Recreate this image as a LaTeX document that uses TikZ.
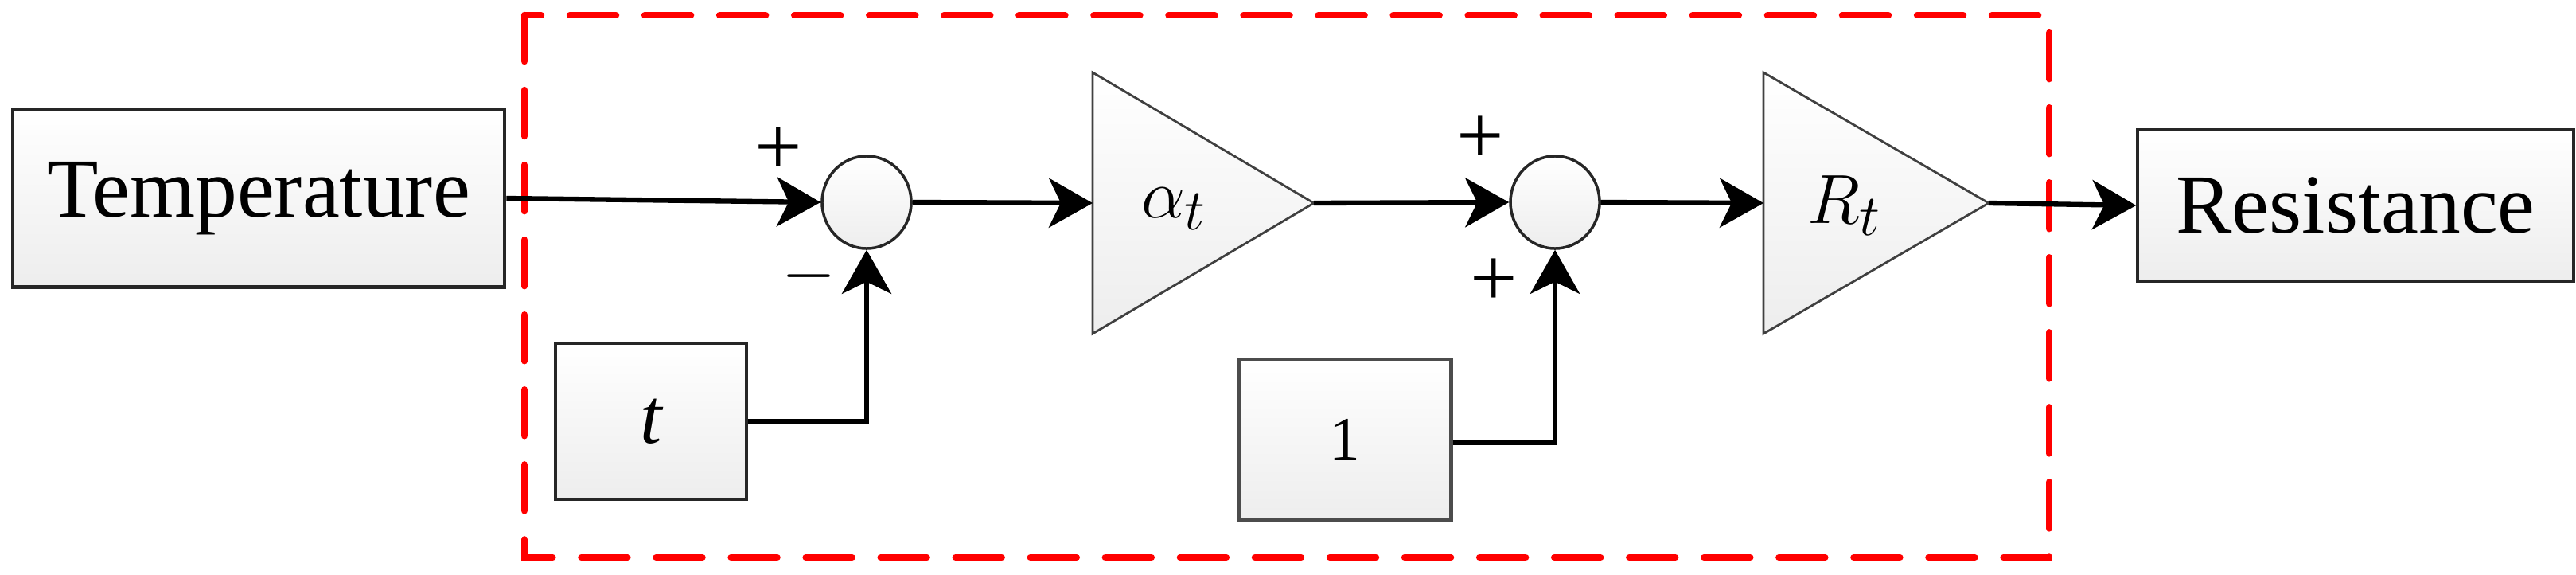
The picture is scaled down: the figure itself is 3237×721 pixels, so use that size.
\documentclass[tikz,border=0pt]{standalone}
\usepackage{fontspec}
\setmainfont{Liberation Serif}
\usetikzlibrary{arrows.meta,shapes.geometric}
\begin{document}
\begin{tikzpicture}[x=0.01cm,y=-0.01cm,
  blk/.style={draw=black!85,line width=1.2pt,top color=white,bottom color=black!7,inner sep=0pt},
  sumn/.style={draw=black!85,ellipse,line width=1pt,minimum width=1.12cm,minimum height=1.16cm,top color=white,bottom color=black!7},
  gain/.style={draw=black!75,line width=0.8pt,top color=white,bottom color=black!7},
  sig/.style={line width=1.8pt,-{Stealth[length=0.55cm,width=0.62cm,inset=0.15cm]}},
  wire/.style={line width=1.8pt},
  sgn/.style={font=\fontsize{30}{30}\selectfont}]
\useasboundingbox (0,0) rectangle (3237,721);
% dashed region
\draw[red,line width=2.4pt,dash pattern=on 0.58cm off 0.36cm,line cap=round] (659,19) rectangle (2575,700);
% blocks
\node[blk,minimum width=6.18cm,minimum height=2.23cm,font=\fontsize{30}{30}\selectfont] (temp) at (325,249) {Temperature};
\node[blk,minimum width=5.47cm,minimum height=1.90cm,font=\fontsize{30}{30}\selectfont] (res) at (2960,258) {Resistance};
\node[blk,minimum width=2.40cm,minimum height=1.96cm,font=\fontsize{28}{28}\selectfont\itshape] (t) at (818,529) {t};
\node[blk,draw=black!70,minimum width=2.67cm,minimum height=2.02cm,font=\fontsize{22}{22}\selectfont] (one) at (1690,552) {1};
\node[sumn] (s1) at (1089,254) {};
\node[sumn] (s2) at (1954,254) {};
% gains
\draw[gain] (1373,91) coordinate (g1a) -- (1651,255) coordinate (g1t) -- (1373,419) -- cycle;
\draw[gain] (2216,91) -- (2499,255) coordinate (g2t) -- (2216,419) -- cycle;
\coordinate (g1in) at (1373,255);
\coordinate (g2in) at (2216,255);
\node[font=\fontsize{30}{30}\selectfont] (al) at (1475,262) {$\alpha_t$};
\node[font=\fontsize{30}{30}\selectfont] (rt) at (2318,258) {$R_t$};
% signs
\node[sgn] (p1) at (978,190) {+};
\node[sgn] (m1) at (1017,347) {$-$};
\node[sgn] (p2) at (1860,176) {+};
\node[sgn] (p3) at (1877,355) {+};
% connectors
\draw[sig] (temp.east) -- (s1.west);
\draw[sig] (s1.east) -- (g1in);
\draw[sig] (g1t) -- (s2.west);
\draw[sig] (s2.east) -- (g2in);
\draw[sig] (g2t) -- (res.west);
\draw[sig] (t.east) -| (s1.south);
\draw[sig] (one.east) ++(0,4) -| (s2.south);
\end{tikzpicture}
\end{document}
